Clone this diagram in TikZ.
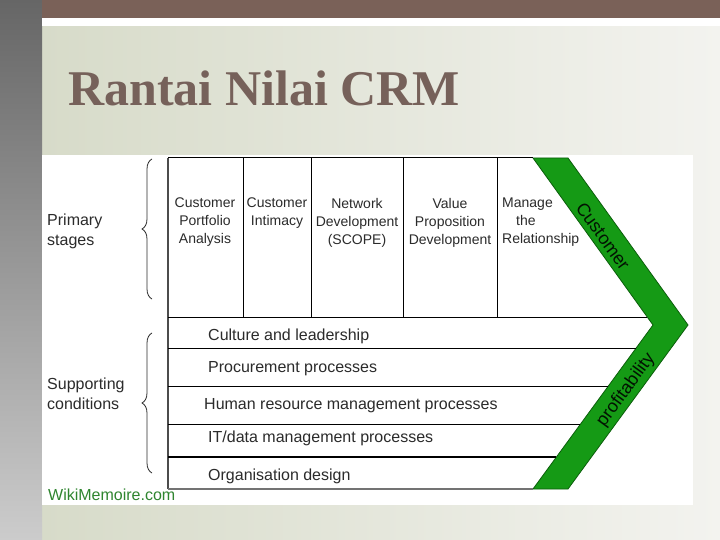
\documentclass[tikz,border=0pt]{standalone}
\usepackage{fontspec}
\setmainfont{Liberation Sans}
\newfontfamily\titlefont{Liberation Serif}
\usetikzlibrary{decorations.pathreplacing}
\definecolor{brownbar}{HTML}{7A6158}
\definecolor{titlebrown}{HTML}{76615A}
\definecolor{bgL}{HTML}{D7DBC9}
\definecolor{bgR}{HTML}{F3F3EF}
\definecolor{stripT}{HTML}{666666}
\definecolor{stripB}{HTML}{CCCCCC}
\definecolor{chev}{HTML}{159A15}
\definecolor{chevdk}{HTML}{0B5E0B}
\definecolor{txt}{HTML}{2B2B2B}
\definecolor{wm}{HTML}{2F852F}
\tikzset{
  hdr/.style={anchor=north, align=center, inner sep=0, text=txt, font=\fontsize{14}{18}\selectfont},
  rowtxt/.style={anchor=west, inner sep=0, text=txt, font=\fontsize{16}{20}\selectfont},
  sidelbl/.style={anchor=west, align=left, inner sep=0, text=txt, font=\fontsize{16}{20}\selectfont},
  bandtxt/.style={inner sep=0, text=black!80!chevdk, font=\fontsize{18}{20}\selectfont},
  tline/.style={draw=black, line width=1pt},
  bracestyle/.style={draw=txt, line width=0.8pt, decorate, decoration={brace, amplitude=10pt}}
}
\begin{document}
\begin{tikzpicture}[x=1pt,y=-1pt]
\useasboundingbox (0,0) rectangle (720,540);
% backgrounds
\shade[left color=bgL, right color=bgR] (42,26) rectangle (720,540);
\shade[top color=stripT, bottom color=stripB] (0,0) rectangle (42,540);
\fill[white] (42,18) rectangle (720,26);
\fill[brownbar] (42,0) rectangle (720,18);
% title
\node[anchor=base west, inner sep=0, text=titlebrown, font=\titlefont\bfseries\fontsize{50}{56}\selectfont] (title) at (68,106) {Rantai Nilai CRM};
% white panel
\fill[white] (42,155) rectangle (693,505);
% chevron
\filldraw[fill=chev, draw=chevdk, line width=0.8pt] (533,158) -- (568,158) -- (688,325) -- (568,489) -- (533,489) -- (653,325) -- cycle;
\node[bandtxt, rotate=-54] (cust) at (603,236) {Customer};
\node[bandtxt, rotate=54] (prof) at (626,390) {profitability};
% table frame
\draw[draw=black!70, line width=1.2pt] (168,489) -- (168,158);
\draw[tline] (168,158) -- (533,158);
\draw[draw=black!55, line width=1.5pt] (168,489) -- (533,489);
\foreach \x in {243,311,403,497} \draw[tline] (\x,158) -- (\x,317);
\draw[tline] (168,317) -- (647,317);
\draw[tline] (168,348) -- (636,348);
\draw[tline] (168,386) -- (608,386);
\draw[tline] (168,424) -- (580,424);
\draw[draw=black, line width=1.8pt] (168,457) -- (556,457);
% headers
\node[hdr] (c1) at (205,198) {Customer\\Portfolio\\Analysis};
\node[hdr] (c2) at (277,198) {Customer\\Intimacy};
\node[hdr] (c3) at (357,198) {Network\\Development\\(SCOPE)};
\node[hdr] (c4) at (450,198) {Value\\Proposition\\Development};
\node[hdr, align=left, anchor=north west] (c5) at (502,198) {Manage\\\hspace*{14pt}the\\Relationship};
% rows
\node[rowtxt] (r1) at (208,336) {Culture and leadership};
\node[rowtxt] (r2) at (208,369) {Procurement processes};
\node[rowtxt] (r3) at (204,406) {Human resource management processes};
\node[rowtxt] (r4) at (208,438) {IT/data management processes};
\node[rowtxt] (r5) at (208,476) {Organisation design};
% side labels
\node[sidelbl] (prim) at (47,231) {Primary\\stages};
\node[sidelbl] (supp) at (47,394) {Supporting\\conditions};
\draw[bracestyle] (152,299) -- (152,159);
\draw[bracestyle] (152,473) -- (152,333);
% watermark
\node[anchor=west, inner sep=0, text=wm, font=\fontsize{16}{18}\selectfont] (wmk) at (48,495) {WikiMemoire.com};
\end{tikzpicture}
\end{document}
